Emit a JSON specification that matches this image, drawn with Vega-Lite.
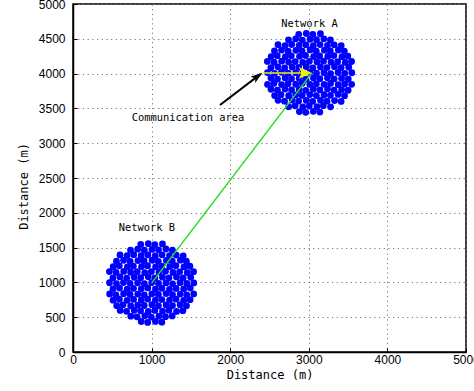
{
  "$schema": "https://vega.github.io/schema/vega-lite/v6.json",
  "width": 393,
  "height": 348,
  "autosize": {"type": "none"},
  "padding": {"left": 73, "top": 4, "right": 8, "bottom": 39},
  "background": "white",
  "config": {
    "view": {"stroke": "black", "strokeWidth": 1.5},
    "axis": {
      "domainColor": "black", "domainWidth": 1.5,
      "grid": true, "gridColor": "#777777", "gridDash": [1.2, 3.5], "gridWidth": 1,
      "tickColor": "black", "tickSize": -4, "tickWidth": 1,
      "labelFont": "Liberation Sans", "labelFontSize": 12, "labelColor": "black",
      "labelOverlap": false, "labelBound": false, "labelFlush": false,
      "titleFont": "DejaVu Sans Mono", "titleFontSize": 12, "titleFontWeight": "normal", "titleColor": "black"
    }
  },
  "datasets": {
    "pts": [
      {"x":868,"y":438},{"x":950,"y":425},{"x":1049,"y":440},{"x":1130,"y":428},
      {"x":735,"y":515},{"x":815,"y":505},{"x":914,"y":520},{"x":996,"y":502},{"x":1093,"y":516},{"x":1176,"y":507},{"x":1262,"y":518},
      {"x":600,"y":598},{"x":681,"y":585},{"x":779,"y":600},{"x":860,"y":592},{"x":958,"y":582},{"x":1041,"y":597},{"x":1139,"y":588},{"x":1220,"y":601},{"x":1318,"y":583},{"x":1398,"y":594},
      {"x":556,"y":665},{"x":637,"y":678},{"x":734,"y":662},{"x":823,"y":674},{"x":906,"y":668},{"x":1004,"y":680},{"x":1087,"y":663},{"x":1185,"y":676},{"x":1266,"y":667},{"x":1363,"y":679},{"x":1444,"y":664},
      {"x":510,"y":745},{"x":590,"y":758},{"x":688,"y":742},{"x":771,"y":755},{"x":869,"y":748},{"x":951,"y":760},{"x":1048,"y":744},{"x":1130,"y":753},{"x":1228,"y":746},{"x":1311,"y":759},{"x":1409,"y":743},{"x":1490,"y":752},
      {"x":466,"y":835},{"x":546,"y":822},{"x":644,"y":838},{"x":726,"y":826},{"x":824,"y":833},{"x":906,"y":820},{"x":1003,"y":836},{"x":1086,"y":827},{"x":1184,"y":839},{"x":1266,"y":824},{"x":1364,"y":832},{"x":1446,"y":821},{"x":1535,"y":834},
      {"x":509,"y":905},{"x":592,"y":918},{"x":689,"y":902},{"x":770,"y":914},{"x":868,"y":907},{"x":952,"y":920},{"x":1049,"y":904},{"x":1131,"y":916},{"x":1227,"y":901},{"x":1312,"y":913},{"x":1408,"y":906},{"x":1492,"y":919},
      {"x":464,"y":995},{"x":553,"y":983},{"x":642,"y":998},{"x":727,"y":986},{"x":823,"y":994},{"x":908,"y":981},{"x":1002,"y":997},{"x":1088,"y":985},{"x":1183,"y":993},{"x":1267,"y":980},{"x":1362,"y":996},{"x":1448,"y":984},{"x":1537,"y":992},
      {"x":508,"y":1065},{"x":597,"y":1078},{"x":683,"y":1062},{"x":778,"y":1074},{"x":861,"y":1068},{"x":957,"y":1080},{"x":1042,"y":1063},{"x":1138,"y":1075},{"x":1221,"y":1066},{"x":1317,"y":1079},{"x":1401,"y":1064},{"x":1498,"y":1073},
      {"x":463,"y":1155},{"x":548,"y":1143},{"x":645,"y":1158},{"x":733,"y":1146},{"x":817,"y":1153},{"x":913,"y":1140},{"x":997,"y":1156},{"x":1094,"y":1147},{"x":1177,"y":1159},{"x":1273,"y":1144},{"x":1357,"y":1152},{"x":1453,"y":1141},{"x":1534,"y":1154},
      {"x":511,"y":1225},{"x":589,"y":1238},{"x":692,"y":1222},{"x":768,"y":1235},{"x":872,"y":1228},{"x":948,"y":1240},{"x":1051,"y":1224},{"x":1128,"y":1233},{"x":1231,"y":1226},{"x":1309,"y":1239},{"x":1412,"y":1223},{"x":1487,"y":1232},
      {"x":553,"y":1305},{"x":643,"y":1318},{"x":727,"y":1302},{"x":826,"y":1314},{"x":904,"y":1308},{"x":1007,"y":1320},{"x":1085,"y":1303},{"x":1188,"y":1316},{"x":1263,"y":1307},{"x":1366,"y":1319},{"x":1442,"y":1304},
      {"x":598,"y":1395},{"x":688,"y":1383},{"x":772,"y":1398},{"x":867,"y":1386},{"x":953,"y":1394},{"x":1047,"y":1381},{"x":1133,"y":1397},{"x":1228,"y":1385},{"x":1313,"y":1393},{"x":1402,"y":1382},
      {"x":732,"y":1465},{"x":823,"y":1478},{"x":907,"y":1462},{"x":1005,"y":1474},{"x":1088,"y":1468},{"x":1182,"y":1480},{"x":1265,"y":1463},
      {"x":862,"y":1545},{"x":958,"y":1556},{"x":1041,"y":1543},{"x":1138,"y":1553},
      {"x":2880,"y":3455},{"x":2961,"y":3444},{"x":3058,"y":3458},{"x":3141,"y":3447},
      {"x":2744,"y":3524},{"x":2826,"y":3537},{"x":2923,"y":3521},{"x":3006,"y":3533},{"x":3104,"y":3526},{"x":3185,"y":3539},{"x":3277,"y":3522},
      {"x":2609,"y":3616},{"x":2691,"y":3603},{"x":2788,"y":3619},{"x":2871,"y":3606},{"x":2968,"y":3614},{"x":3050,"y":3601},{"x":3149,"y":3617},{"x":3231,"y":3604},{"x":3328,"y":3612},{"x":3411,"y":3600},
      {"x":2565,"y":3685},{"x":2646,"y":3697},{"x":2744,"y":3682},{"x":2833,"y":3694},{"x":2915,"y":3687},{"x":3013,"y":3699},{"x":3096,"y":3684},{"x":3194,"y":3696},{"x":3275,"y":3688},{"x":3373,"y":3701},{"x":3455,"y":3683},
      {"x":2519,"y":3775},{"x":2601,"y":3762},{"x":2698,"y":3778},{"x":2781,"y":3765},{"x":2878,"y":3772},{"x":2961,"y":3760},{"x":3058,"y":3776},{"x":3141,"y":3767},{"x":3238,"y":3779},{"x":3321,"y":3763},{"x":3418,"y":3771},{"x":3500,"y":3761},
      {"x":2475,"y":3845},{"x":2556,"y":3858},{"x":2654,"y":3842},{"x":2736,"y":3855},{"x":2834,"y":3847},{"x":2916,"y":3860},{"x":3013,"y":3844},{"x":3096,"y":3853},{"x":3194,"y":3846},{"x":3276,"y":3859},{"x":3374,"y":3841},{"x":3456,"y":3852},{"x":3545,"y":3846},
      {"x":2518,"y":3935},{"x":2602,"y":3922},{"x":2699,"y":3938},{"x":2780,"y":3926},{"x":2878,"y":3933},{"x":2962,"y":3920},{"x":3059,"y":3936},{"x":3140,"y":3927},{"x":3237,"y":3939},{"x":3322,"y":3924},{"x":3417,"y":3932},{"x":3502,"y":3921},
      {"x":2474,"y":4015},{"x":2563,"y":4003},{"x":2652,"y":4018},{"x":2737,"y":4006},{"x":2833,"y":4014},{"x":2918,"y":4001},{"x":3012,"y":4017},{"x":3098,"y":4005},{"x":3193,"y":4013},{"x":3277,"y":4000},{"x":3372,"y":4016},{"x":3458,"y":4004},{"x":3547,"y":4012},
      {"x":2518,"y":4085},{"x":2607,"y":4098},{"x":2693,"y":4082},{"x":2788,"y":4094},{"x":2871,"y":4088},{"x":2967,"y":4100},{"x":3052,"y":4083},{"x":3148,"y":4095},{"x":3231,"y":4086},{"x":3327,"y":4099},{"x":3411,"y":4084},{"x":3508,"y":4093},
      {"x":2473,"y":4175},{"x":2558,"y":4163},{"x":2655,"y":4178},{"x":2743,"y":4166},{"x":2827,"y":4173},{"x":2923,"y":4160},{"x":3007,"y":4176},{"x":3104,"y":4167},{"x":3187,"y":4179},{"x":3283,"y":4164},{"x":3367,"y":4172},{"x":3463,"y":4161},{"x":3544,"y":4174},
      {"x":2521,"y":4245},{"x":2599,"y":4258},{"x":2702,"y":4242},{"x":2778,"y":4255},{"x":2882,"y":4248},{"x":2958,"y":4260},{"x":3061,"y":4244},{"x":3138,"y":4253},{"x":3241,"y":4246},{"x":3319,"y":4259},{"x":3422,"y":4243},{"x":3497,"y":4252},
      {"x":2563,"y":4325},{"x":2653,"y":4338},{"x":2737,"y":4322},{"x":2836,"y":4334},{"x":2914,"y":4328},{"x":3017,"y":4340},{"x":3095,"y":4323},{"x":3198,"y":4336},{"x":3273,"y":4327},{"x":3376,"y":4339},{"x":3452,"y":4324},
      {"x":2608,"y":4415},{"x":2698,"y":4403},{"x":2782,"y":4418},{"x":2877,"y":4406},{"x":2963,"y":4414},{"x":3057,"y":4401},{"x":3143,"y":4417},{"x":3238,"y":4405},{"x":3323,"y":4413},{"x":3412,"y":4402},
      {"x":2742,"y":4485},{"x":2833,"y":4498},{"x":2917,"y":4482},{"x":3015,"y":4494},{"x":3098,"y":4488},{"x":3192,"y":4500},{"x":3275,"y":4483},
      {"x":2872,"y":4565},{"x":2968,"y":4576},{"x":3051,"y":4563},{"x":3148,"y":4573}
    ],
    "green": [{"x":1000,"y":990},{"x":3040,"y":4010}],
    "yellow": [{"x":2417,"y":4010},{"x":2970,"y":4010}],
    "black": [{"x":1870,"y":3549},{"x":2385,"y":3992}],
    "yhead": [{"x":3040,"y":4010}],
    "bhead": [{"x":2410,"y":4012}],
    "labels": [
      {"x":3009,"y":4713,"t":"Network A"},
      {"x":941,"y":1782,"t":"Network B"},
      {"x":1463,"y":3362,"t":"Communication area"}
    ]
  },
  "encoding": {
    "x": {"field": "x", "type": "quantitative", "scale": {"domain": [0, 5000], "nice": false},
      "axis": {"title": "Distance (m)", "format": "d", "values": [0,1000,2000,3000,4000,5000], "labelPadding": 6, "titlePadding": 4}},
    "y": {"field": "y", "type": "quantitative", "scale": {"domain": [0, 5000], "nice": false},
      "axis": {"title": "Distance (m)", "format": "d", "values": [0,500,1000,1500,2000,2500,3000,3500,4000,4500,5000], "labelPadding": 12, "titlePadding": 8, "titleY": 182}}
  },
  "layer": [
    {"data": {"name": "pts"}, "mark": {"type": "circle", "size": 46, "color": "#0000ff", "opacity": 1}},
    {"data": {"name": "green"}, "mark": {"type": "line", "color": "#22e022", "strokeWidth": 1.5}},
    {"data": {"name": "yellow"}, "mark": {"type": "line", "color": "#f2f200", "strokeWidth": 1.5}},
    {"data": {"name": "black"}, "mark": {"type": "line", "color": "black", "strokeWidth": 2}},
    {"data": {"name": "yhead"}, "mark": {"type": "point", "shape": "M0,0L-0.9,2L0,1.6L0.9,2Z", "size": 169, "angle": 90, "filled": true, "color": "#f2f200", "opacity": 1}},
    {"data": {"name": "bhead"}, "mark": {"type": "point", "shape": "M0,0L-0.65,2L0,1.5L0.65,2Z", "size": 144, "angle": 53, "filled": true, "color": "black", "opacity": 1}},
    {"data": {"name": "labels"}, "mark": {"type": "text", "font": "DejaVu Sans Mono", "fontSize": 10.4, "color": "black", "align": "center", "baseline": "middle"},
      "encoding": {"text": {"field": "t"}}}
  ]
}
